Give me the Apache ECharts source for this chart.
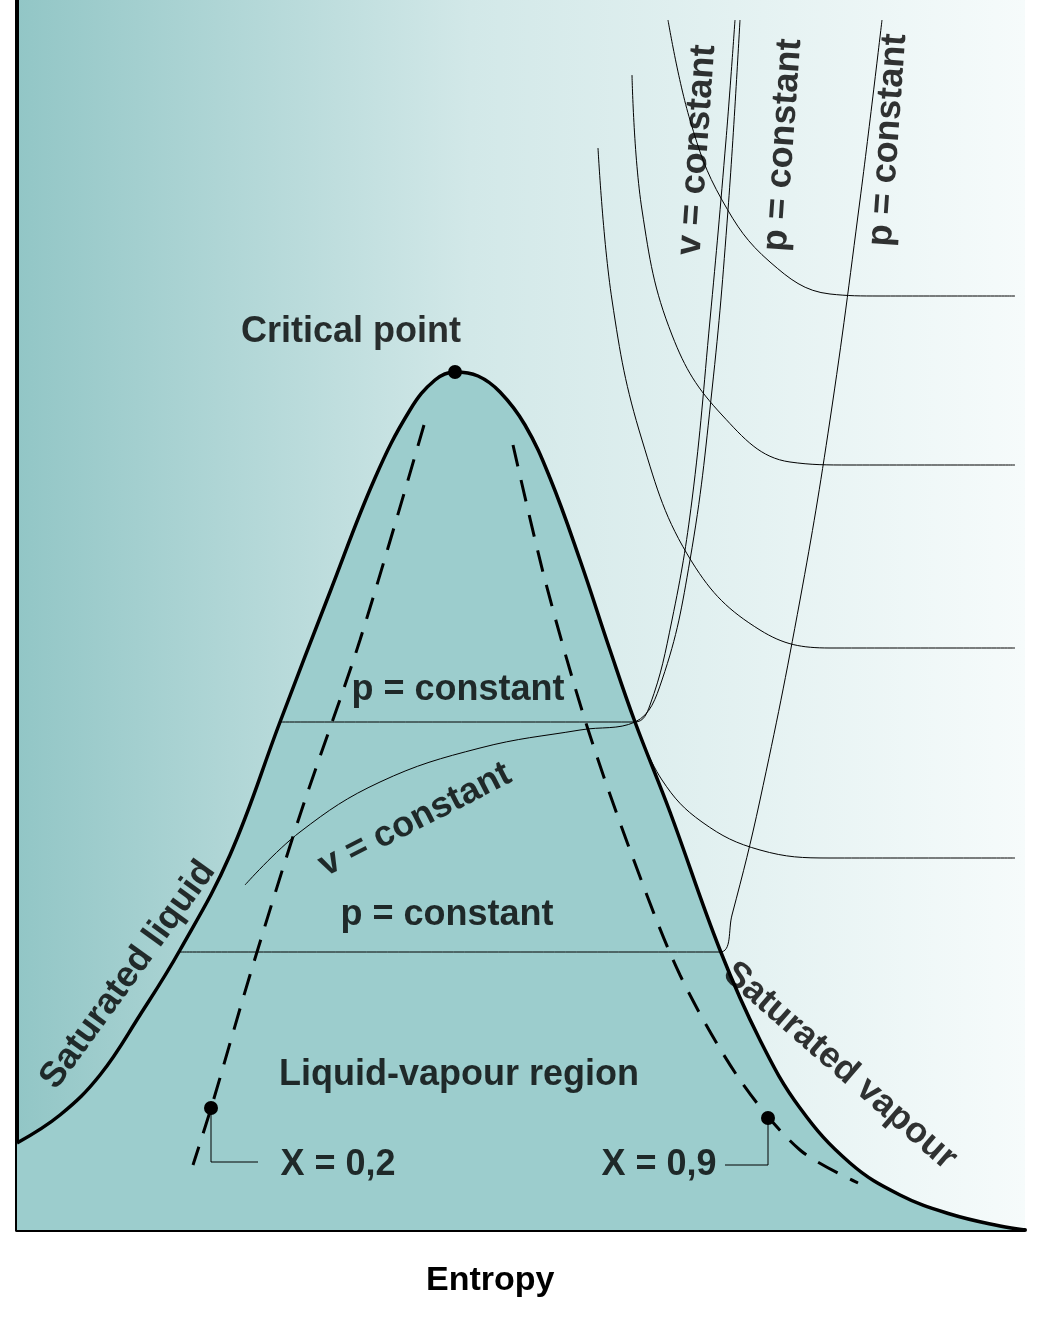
<!DOCTYPE html>
<html>
<head>
  <meta charset="utf-8">
  <title>T-s diagram</title>
  <script src="https://cdn.jsdelivr.net/npm/echarts@6/dist/echarts.min.js"></script>
  <style>html,body{margin:0;padding:0;background:#fff}#graph{width:1039px;height:1330px}</style>
</head>
<body>
  <div id="graph"></div>
  <script>
    var chart = echarts.init(document.getElementById('graph'));

    // curves, in entropy / temperature units of the picture
    var dome = [[17,1143],[60,1115],[100,1075],[140,1015],[180,950],[230,855],[280,722],[330,592],[375,478],[410,410],[435,380],[455,372],[478,376],[500,392],[525,425],[550,478],[580,560],[610,650],[635,722],[670,812],[720,950],[760,1040],[800,1108],[850,1163],[900,1195],[950,1214],[1000,1226],[1025,1230]];
    var quality02 = [[424,425],[360,640],[300,815],[250,975],[212,1105],[193,1165]];
    var quality09 = [[513,445],[545,580],[585,720],[630,850],[680,975],[740,1080],[800,1150],[858,1183]];
    var pressLow = [[180,952],[720,952],[732,915],[760,800],[800,600],[830,420],[860,200],[882,20]];
    var pressHigh = [[280,722],[635,722],[650,705],[672,620],[692,500],[710,320],[726,140],[735,20]];
    var volume = [[245,885],[300,832],[380,782],[480,748],[580,730],[635,722],[662,680],[690,560],[712,390],[728,210],[740,20]];
    var isotherms = [
      [[668,20],[690,120],[722,200],[770,262],[830,294],[880,296],[1015,296]],
      [[632,75],[642,210],[672,335],[722,415],[790,462],[850,465],[1015,465]],
      [[598,148],[612,300],[642,440],[692,562],[760,630],[830,648],[1015,648]],
      [[635,722],[662,780],[702,822],[760,850],[830,858],[1015,858]]
    ];
    var leader02 = [[211,1108],[211,1162],[258,1162]];
    var leader09 = [[768,1118],[768,1165],[725,1165]];
    var dots = [[455,372],[211,1108],[768,1118]];
    var labels = [
      {t:'Critical point', x:351, y:332, r:0},
      {t:'p = constant', x:458, y:690, r:0},
      {t:'v = constant', x:415, y:820, r:27},
      {t:'p = constant', x:447, y:915, r:0},
      {t:'Liquid-vapour region', x:459, y:1075, r:0},
      {t:'X = 0,2', x:338, y:1165, r:0},
      {t:'X = 0,9', x:659, y:1165, r:0},
      {t:'Saturated liquid', x:128, y:975, r:54},
      {t:'Saturated vapour', x:840, y:1066, r:-41},
      {t:'v = constant', x:697, y:150, r:86},
      {t:'p = constant', x:783, y:145, r:86},
      {t:'p = constant', x:888, y:140, r:86}
    ];

    function thin(d) {
      return {type:'line', data:d, smooth:0.4, symbol:'none', silent:true, z:4,
        lineStyle:{color:'#000', width:1}};
    }

    var series = [
      {type:'line', data:dome, smooth:0.4, symbol:'none', z:3,
        lineStyle:{color:'#000', width:3.5},
        areaStyle:{color:'#9ccdcd', opacity:1, origin:'end'}},
      {type:'line', data:quality02, smooth:0.3, symbol:'none', z:4,
        lineStyle:{color:'#000', width:3, type:[22,14]}},
      {type:'line', data:quality09, smooth:0.3, symbol:'none', z:4,
        lineStyle:{color:'#000', width:3, type:[22,14]}},
      thin(pressLow), thin(pressHigh), thin(volume),
      {type:'line', data:leader02, symbol:'none', z:4, lineStyle:{color:'#000', width:1}},
      {type:'line', data:leader09, symbol:'none', z:4, lineStyle:{color:'#000', width:1}},
      {type:'scatter', data:dots, symbolSize:14, z:5, itemStyle:{color:'#000', opacity:1}},
      {type:'scatter', symbolSize:0, z:6,
        data:labels.map(function (l) {
          return {value:[l.x, l.y], label:{formatter:l.t, rotate:l.r}};
        }),
        label:{show:true, position:'inside', color:'#000', fontSize:36, textBorderWidth:0,
          fontWeight:'bold', fontFamily:'Liberation Sans, Arial, sans-serif'}}
    ];
    isotherms.forEach(function (d) { series.push(thin(d)); });

    var option = {
      animation:false,
      graphic:[
        {type:'rect', z:-10, shape:{x:17, y:0, width:1008, height:1230},
          style:{fill:new echarts.graphic.LinearGradient(0,0,1,0,[
            {offset:0, color:'#92c6c6'},{offset:0.45, color:'#d2e8e8'},{offset:1, color:'#f6fbfb'}])}},
        {type:'text', left:426, top:1264, z:10,
          style:{text:'Entropy', fill:'#000', fontSize:34, fontWeight:'bold',
            fontFamily:'Liberation Sans, Arial, sans-serif'}}
      ],
      grid:{left:17, top:0, width:1008, height:1230},
      xAxis:{type:'value', min:17, max:1025, position:'bottom',
        axisLine:{onZero:false, lineStyle:{color:'#000', width:4}},
        axisTick:{show:false}, axisLabel:{show:false}, splitLine:{show:false}},
      yAxis:{type:'value', min:0, max:1230, inverse:true,
        axisLine:{show:true, onZero:false, lineStyle:{color:'#000', width:4}},
        axisTick:{show:false}, axisLabel:{show:false}, splitLine:{show:false}},
      series:series
    };
    chart.setOption(option);
  </script>
</body>
</html>
